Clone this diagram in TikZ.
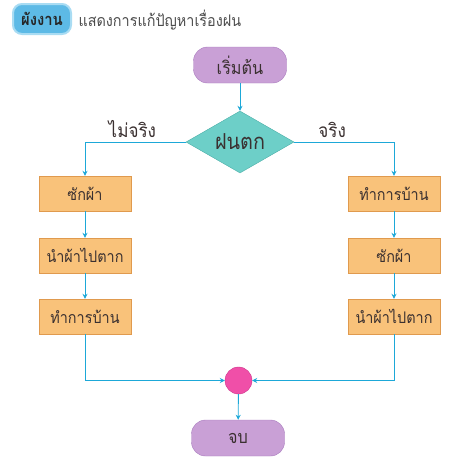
\documentclass[tikz,border=0pt]{standalone}
\usepackage{fontspec}
\newfontfamily\thaifont[Script=Thai, FakeStretch=0.9]{Loma}
\usetikzlibrary{shapes.geometric,arrows.meta}
\definecolor{flowline}{HTML}{1DA8D8}
\definecolor{boxfill}{HTML}{F9C27A}
\definecolor{boxline}{HTML}{E09A4E}
\definecolor{termfill}{HTML}{C9A0D6}
\definecolor{termline}{HTML}{A97BBE}
\definecolor{decfill}{HTML}{6DCFC8}
\definecolor{decline}{HTML}{4BAFA8}
\definecolor{joinfill}{HTML}{F04FA8}
\definecolor{joinline}{HTML}{CE3A8E}
\definecolor{tagfill}{HTML}{5DBAE6}
\definecolor{tagline}{HTML}{A9DCF3}
\definecolor{inktext}{HTML}{3A3030}
\tikzset{
	every node/.style={font=\thaifont\fontsize{16}{18}\selectfont, text=inktext},
	proc/.style={draw=boxline, fill=boxfill, minimum width=92pt, minimum height=35pt, inner sep=0pt},
	term/.style={draw=termline, fill=termfill, rounded corners=14pt, minimum width=93pt, minimum height=36pt, inner sep=0pt, font=\thaifont\fontsize{18}{20}\selectfont},
	dec/.style={diamond, draw=decline, fill=decfill, aspect=1.74, minimum width=108pt, minimum height=62pt, inner sep=0pt, font=\thaifont\fontsize{22}{24}\selectfont},
	meetdot/.style={circle, draw=joinline, fill=joinfill, minimum size=27pt, inner sep=0pt},
	flow/.style={draw=flowline, line width=0.9pt, -{Stealth[length=5pt,width=5pt]}},
	lbl/.style={font=\thaifont\fontsize{19}{21}\selectfont, above=1pt},
	tag/.style={draw=tagline, line width=2pt, fill=tagfill, rounded corners=9pt, minimum width=58pt, minimum height=30pt, inner sep=0pt, font=\thaifont\bfseries\fontsize{16.5}{19}\selectfont, text=black!85}
}
\begin{document}
\begin{tikzpicture}[x=1pt, y=-1pt]
	\useasboundingbox (0,0) rectangle (474,456);
	% heading
	\node[tag] (tag) at (42,19) {ผังงาน};
	\node[anchor=west, text=black!70] (title) at (75,20) {แสดงการแก้ปัญหาเรื่องฝน};
	% start and test
	\node[term] (start) at (240,65) {เริ่มต้น};
	\node[dec] (rain) at (240,142) {ฝนตก};
	% false branch
	\node[proc] (l1) at (85,193.5) {ซักผ้า};
	\node[proc] (l2) at (85,255.5) {นำผ้าไปตาก};
	\node[proc] (l3) at (85,316.5) {ทำการบ้าน};
	% true branch
	\node[proc] (r1) at (394,193.5) {ทำการบ้าน};
	\node[proc] (r2) at (394,255.5) {ซักผ้า};
	\node[proc] (r3) at (394,316.5) {นำผ้าไปตาก};
	% end
	\node[meetdot] (meet) at (238.5,380.5) {};
	\node[term] (stop) at (238,438) {จบ};
	\draw[flow] (start) -- (rain);
	\draw[flow] (rain.west) -| (l1) node[pos=0.265, lbl] {ไม่จริง};
	\draw[flow] (rain.east) -| (r1) node[pos=0.19, lbl] {จริง};
	\draw[flow] (l1) -- (l2);
	\draw[flow] (l2) -- (l3);
	\draw[flow] (r1) -- (r2);
	\draw[flow] (r2) -- (r3);
	\draw[flow] (l3) |- (meet);
	\draw[flow] (r3) |- (meet);
	\draw[flow] (meet) -- (stop);
\end{tikzpicture}
\end{document}
